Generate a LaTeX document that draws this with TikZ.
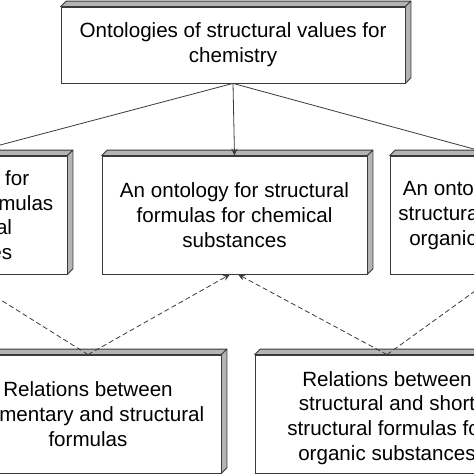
\documentclass[tikz,border=0pt]{standalone}
\usepackage{fontspec}
\setmainfont{Liberation Sans}
\usetikzlibrary{arrows.meta,calc}
\definecolor{edgec}{HTML}{3A3A3A}
\definecolor{facec}{HTML}{B4B4B4}
\tikzset{
  box/.style={draw=edgec, line width=0.8pt, fill=white, align=center,
    inner sep=0pt, font=\fontsize{20.6}{24.7}\selectfont},
  face/.style={fill=facec, draw=edgec, line width=0.8pt, line join=round},
  link/.style={draw=edgec, line width=0.8pt, -{Stealth[length=7pt,width=6pt]}},
  dlink/.style={link, dash pattern=on 5pt off 3pt},
}
\newcommand{\threed}[1]{%
  \draw[face] (#1.north west) -- ++(5.5pt,5.5pt) -- ($(#1.north east)+(5.5pt,5.5pt)$) -- (#1.north east) -- cycle;
  \draw[face] (#1.north east) -- ++(5.5pt,5.5pt) -- ($(#1.south east)+(5.5pt,5.5pt)$) -- (#1.south east) -- cycle;
}
\begin{document}
\begin{tikzpicture}[x=1pt,y=-1pt]
\useasboundingbox (0,0) rectangle (474,474);
\clip (0,0) rectangle (474,474);
\node[box, minimum width=344pt, minimum height=76pt] (top) at (233,45) {Ontologies of structural values for\\chemistry};
\node[box, minimum width=265pt, minimum height=118pt] (mid) at (234.5,215) {An ontology for structural\\formulas for chemical\\substances};
\node[box, minimum width=214pt, minimum height=118pt] (left) at (-40,215) {An ontology for\\elementary formulas\\of chemical\\substances};
\node[box, minimum width=216pt, minimum height=118pt] (right) at (498,215) {An ontology for short\\structural formulas for\\organic substances};
\node[box, minimum width=266pt, minimum height=118pt] (bl) at (88,414) {Relations between\\elementary and structural\\formulas};
\node[box, minimum width=264pt, minimum height=118pt] (br) at (387,414) {};
\node[align=center, font=\fontsize{20.6}{24.7}\selectfont, inner sep=0pt] (brt) at (387,418) {Relations between\\structural and short\\structural formulas for\\organic substances};
\foreach \n in {top,mid,left,right,bl,br} {\threed{\n}}
\draw[link] (top.south) -- (mid.north);
\draw[link] (top.south) -- (left.north);
\draw[link] (top.south) -- (right.north);
\draw[dlink] (bl.north) -- ($(mid.south)+(-4.5pt,0)$);
\draw[dlink] (br.north) -- ($(mid.south)+(3.5pt,0)$);
\draw[dlink] (bl.north) -- (left.south);
\draw[dlink] (br.north) -- (right.south);
\end{tikzpicture}
\end{document}
